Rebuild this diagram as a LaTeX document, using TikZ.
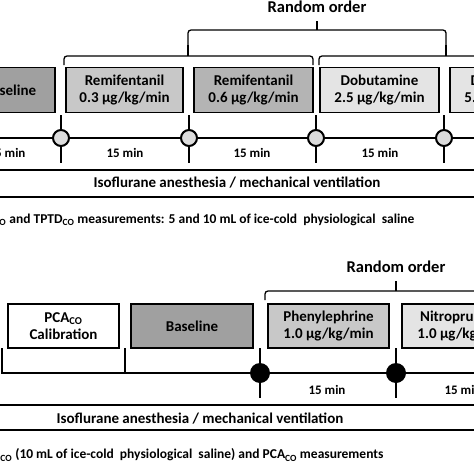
\documentclass[tikz,border=0pt]{standalone}
\usepackage{fontspec}
\setmainfont{Carlito}
\definecolor{gA}{HTML}{A0A0A0}
\definecolor{gB}{HTML}{C8C8C8}
\definecolor{gC}{HTML}{B4B4B4}
\definecolor{gD}{HTML}{E4E4E4}
\definecolor{gE}{HTML}{DCDCDC}
\begin{document}
\begin{tikzpicture}[x=1pt,y=-1pt,
  box/.style={draw=black, line width=1.3pt, minimum height=45pt, inner sep=0pt, align=center, font=\fontsize{15}{17}\selectfont\bfseries},
  tl/.style={line width=2pt},
  brc/.style={line width=1.3pt, rounded corners=3pt},
  lab/.style={font=\fontsize{13}{15}\selectfont\bfseries},
  big/.style={font=\fontsize{15}{17}\selectfont\bfseries},
  ttl/.style={font=\fontsize{16.5}{18}\selectfont\bfseries},
  note/.style={font=\fontsize{13.5}{15}\selectfont\bfseries},
  opn/.style={circle, draw=black, fill=gE, line width=2pt, minimum size=16pt, inner sep=0pt},
  cls/.style={circle, fill=black, minimum size=20pt, inner sep=0pt}]
\useasboundingbox (0,0) rectangle (474,474);
\clip (0,0) rectangle (474,474);
\fill[white] (0,0) rectangle (474,474);
% ---------- top panel ----------
\node[ttl] (ro1) at (317,7) {Random order};
\draw[brc] (188,45) -- (188,30) -- (446,30) -- (446,45);
\draw[brc] (317,30) -- (317,21);
\draw[brc] (64,65) -- (64,56) -- (313,56) -- (313,65);
\draw[brc] (188,56) -- (188,45);
\draw[brc] (319,65) -- (319,56) -- (580,56) -- (580,65);
\draw[brc] (446,56) -- (446,45);
\node[box, fill=gA, minimum width=90pt] (b0) at (10,90) {Baseline};
\node[box, fill=gB, minimum width=117pt] (r1) at (124.5,90) {Remifentanil\\0.3 µg/kg/min};
\node[box, fill=gC, minimum width=119pt] (r2) at (253.5,90) {Remifentanil\\0.6 µg/kg/min};
\node[box, fill=gD, minimum width=119pt] (d1) at (379.5,90) {Dobutamine\\2.5 µg/kg/min};
\node[box, fill=gD, minimum width=119pt] (d2) at (509.5,90) {Dobutamine\\5.0 µg/kg/min};
\coordinate (tl0) at (0,138);
\coordinate (tl1) at (474,138);
\draw[tl] (tl0) -- (tl1);
\foreach \x/\n in {61/1,189/2,316/3,444/4}{
  \coordinate (ta\n) at (\x,115);
  \coordinate (tb\n) at (\x,163);
  \draw[tl] (ta\n) -- (tb\n);
  \node[opn] (c\n) at (\x,138) {};
}
\node[lab] (m0) at (7,153) {15 min};
\node[lab] (m1) at (125,153) {15 min};
\node[lab] (m2) at (252,153) {15 min};
\node[lab] (m3) at (380,153) {15 min};
\coordinate (la) at (0,170); \coordinate (lb) at (474,170);
\coordinate (lc) at (0,197); \coordinate (ld) at (474,197);
\draw[tl] (la) -- (lb);
\draw[tl] (lc) -- (ld);
\node[big] (iso1) at (237,183) {Isoflurane anesthesia / mechanical ventilation};
\node[note, anchor=east] (n1) at (418,220) {TD\textsubscript{CO} and TPTD\textsubscript{CO} measurements: 5 and 10 mL of ice-cold\ \ physiological\ \ saline};
% ---------- bottom panel ----------
\node[ttl] (ro2) at (396,267) {Random order};
\draw[brc] (265,300) -- (265,291) -- (540,291) -- (540,300);
\draw[brc] (396,291) -- (396,281);
\node[box, fill=white, minimum width=111pt, minimum height=44pt] (pca) at (63.5,326) {PCA\textsubscript{CO}\\Calibration};
\node[box, fill=gA, minimum width=122pt, minimum height=44pt] (b1) at (192,326) {Baseline};
\node[box, fill=gB, minimum width=121pt, minimum height=44pt] (ph) at (328.5,326) {Phenylephrine\\1.0 µg/kg/min};
\node[box, fill=gD, minimum width=121pt, minimum height=44pt] (np) at (462.5,326) {Nitroprusside\\1.0 µg/kg/min};
\coordinate (s0) at (2,348);
\coordinate (s1) at (2,373);
\coordinate (s2) at (474,373);
\draw[tl] (s0) -- (s1) -- (s2);
\coordinate (u0) at (125,348); \coordinate (u1) at (125,373);
\draw[tl] (u0) -- (u1);
\foreach \x/\n in {260/1,396/2}{
  \coordinate (va\n) at (\x,348);
  \coordinate (vb\n) at (\x,398);
  \draw[tl] (va\n) -- (vb\n);
  \node[cls] (k\n) at (\x,373) {};
}
\node[lab] (m4) at (327,390) {15 min};
\node[lab] (m5) at (463,390) {15 min};
\coordinate (le) at (0,405); \coordinate (lf) at (474,405);
\coordinate (lg) at (0,430); \coordinate (lh) at (474,430);
\draw[tl] (le) -- (lf);
\draw[tl] (lg) -- (lh);
\node[big] (iso2) at (200,419) {Isoflurane anesthesia / mechanical ventilation};
\node[note, anchor=east] (n2) at (387,455) {TD\textsubscript{CO} (10 mL of ice-cold\ \ physiological\ \ saline) and PCA\textsubscript{CO} measurements};
\end{tikzpicture}
\end{document}
